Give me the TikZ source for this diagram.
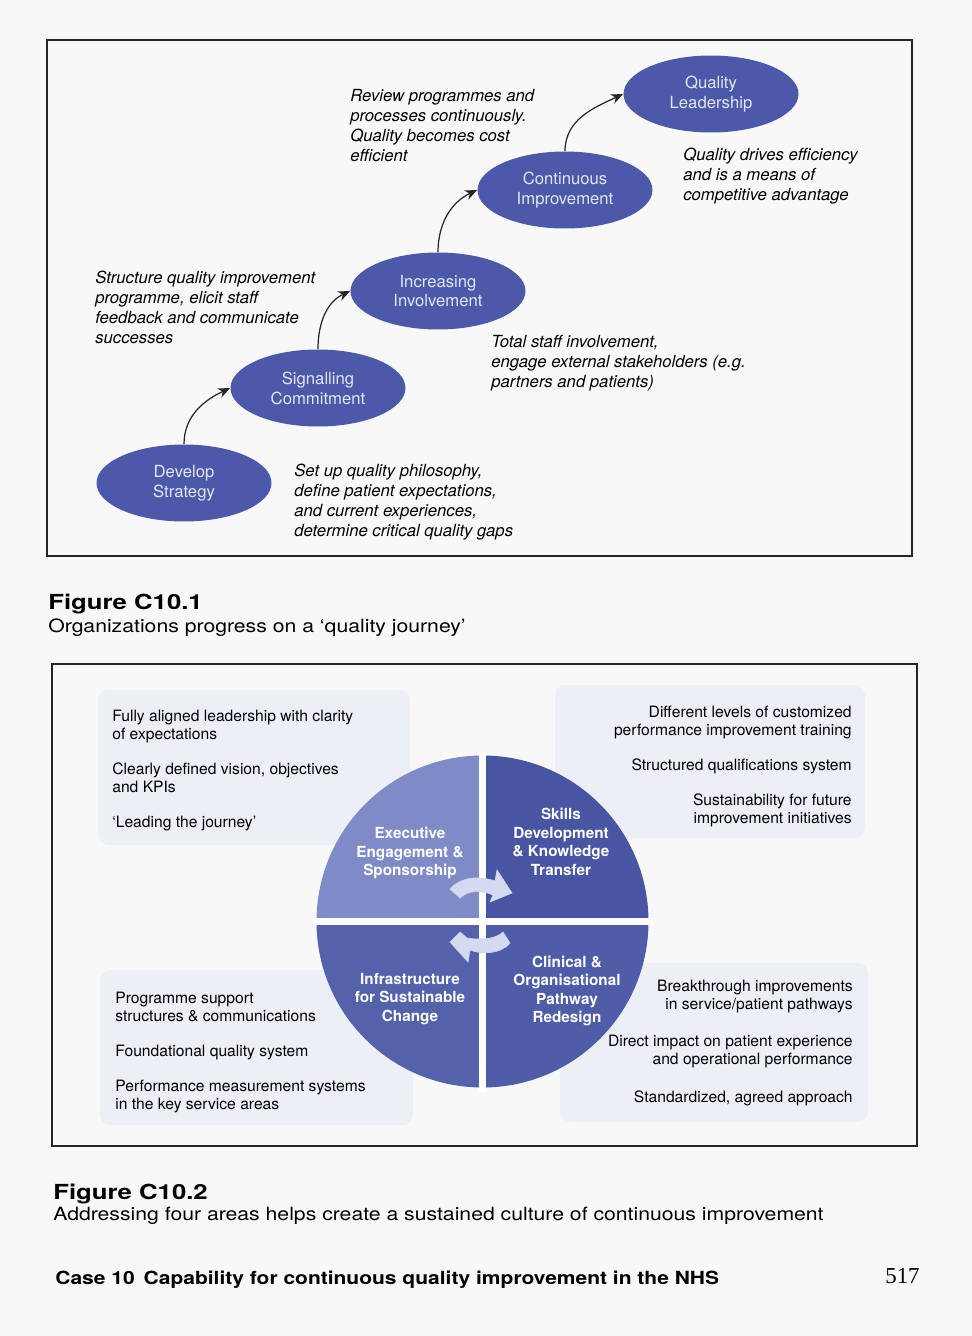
\documentclass[tikz,border=0pt]{standalone}
\usepackage{fontspec}
\setmainfont{TeX Gyre Heros}
\newfontfamily\widefont[FakeStretch=1.16]{TeX Gyre Heros}
\newfontfamily\titlefont[FakeStretch=1.24]{TeX Gyre Heros}
\newfontfamily\folio{Liberation Serif}
\usetikzlibrary{arrows.meta, shapes.geometric}

\definecolor{paper}{RGB}{248,248,248}
\definecolor{stageblue}{RGB}{76,89,168}
\definecolor{stagetext}{RGB}{226,229,243}
\definecolor{quadlight}{RGB}{127,139,199}
\definecolor{quaddark}{RGB}{72,85,163}
\definecolor{quadmid}{RGB}{84,98,172}
\definecolor{quadlow}{RGB}{79,93,169}
\definecolor{panelgray}{RGB}{236,239,246}
\definecolor{swirl}{RGB}{214,218,240}

\begin{document}
\begin{tikzpicture}[
    x=0.02cm, y=0.02cm,
    stage/.style={ellipse, fill=stageblue, text=stagetext, minimum width=3.5cm, minimum height=1.54cm, inner sep=0pt, align=center, font=\fontsize{9.5}{11.3}\selectfont},
    note/.style={anchor=north west, align=left, inner sep=0pt, font=\fontsize{9.5}{11.3}\selectfont\itshape},
    climb/.style={-{Stealth[length=2.4mm, width=2mm]}, line width=0.7pt, black!85},
    frame/.style={draw=black!85, line width=1pt},
    panel/.style={fill=panelgray, rounded corners=6pt},
    quadtext/.style={text=white, align=center, inner sep=0pt, font=\fontsize{8.7}{10.6}\selectfont\bfseries},
    point/.style={inner sep=0pt, font=\fontsize{8.9}{10.2}\selectfont},
    swirlarrow/.style={fill=swirl, draw=white!60!quadlight, line width=0.4pt},
    figtitle/.style={anchor=west, inner sep=0pt, font=\titlefont\fontsize{11.8}{14}\selectfont\bfseries},
    figsub/.style={anchor=west, inner sep=0pt, font=\widefont\fontsize{10.4}{12}\selectfont},
    runfoot/.style={anchor=west, inner sep=0pt, font=\widefont\fontsize{10.3}{12}\selectfont\bfseries},
]
\useasboundingbox (0,0) rectangle (972,-1336);
\fill[paper] (0,0) rectangle (972,-1336);

% Figure C10.1: the quality journey
\draw[frame] (47,-40) rectangle (912,-556);

\node[stage] (develop) at (184,-483) {Develop\\Strategy};
\node[stage] (signal) at (318,-388) {Signalling\\Commitment};
\node[stage] (involve) at (438,-291) {Increasing\\Involvement};
\node[stage] (improve) at (565,-190) {Continuous\\Improvement};
\node[stage] (lead) at (711,-94) {Quality\\Leadership};

\draw[climb] (develop.north) to[out=90, in=205] (signal.west);
\draw[climb] (signal.north) to[out=90, in=205] (involve.west);
\draw[climb] (involve.north) to[out=90, in=205] (improve.west);
\draw[climb] (improve.north) to[out=90, in=205] (lead.west);

\node[note] (reviewnote) at (350,-89) {Review programmes and\\processes continuously.\\Quality becomes cost\\efficient};
\node[note] (drivesnote) at (683,-148) {Quality drives efficiency\\and is a means of\\competitive advantage};
\node[note] (structnote) at (95,-271) {Structure quality improvement\\programme, elicit staff\\feedback and communicate\\successes};
\node[note] (staffnote) at (491,-335) {Total staff involvement,\\engage external stakeholders (e.g.\\partners and patients)};
\node[note] (setupnote) at (294,-464) {Set up quality philosophy,\\define patient expectations,\\and current experiences,\\determine critical quality gaps};

\node[figtitle] (figone) at (48,-604) {Figure C10.1};
\node[figsub] (figonecap) at (48,-628) {Organizations progress on a ‘quality journey’};

% Figure C10.2: four areas
\draw[frame] (52,-664) rectangle (917,-1146);

\fill[panel] (98,-690) rectangle (410,-845);
\fill[panel] (555,-685) rectangle (865,-838);
\fill[panel] (100,-970) rectangle (413,-1125);
\fill[panel] (560,-963) rectangle (868,-1122);

\coordinate (hub) at (482.5,-921.5);
\fill[quadlight] (hub) -- ++(180:166) arc[start angle=180, end angle=90, radius=166] -- cycle;
\fill[quaddark] (hub) -- ++(90:166) arc[start angle=90, end angle=0, radius=166] -- cycle;
\fill[quadmid] (hub) -- ++(180:166) arc[start angle=180, end angle=270, radius=166] -- cycle;
\fill[quadlow] (hub) -- ++(0:166) arc[start angle=0, end angle=-90, radius=166] -- cycle;
\draw[white, line width=0.14cm] (hub) ++(-170,0) -- ++(340,0);
\draw[white, line width=0.14cm] (hub) ++(0,170) -- ++(0,-340);

% turning arrows between the quarters
\draw[swirlarrow] (450,-889) .. controls (462,-876) and (480,-876) .. (495,-881) -- (497,-870) -- (512,-893) -- (490,-902) -- (493,-895) .. controls (482,-890) and (468,-890) .. (460,-898) -- cycle;
\draw[swirlarrow] (503,-932) -- (510,-943) .. controls (500,-955) and (480,-954) .. (470,-950) -- (468,-962) -- (450,-942) -- (460,-932) -- (467,-938) .. controls (478,-940) and (495,-940) .. (503,-932) -- cycle;

\node[quadtext] (execlab) at (410,-853) {Executive\\Engagement \&\\Sponsorship};
\node[quadtext] (skilllab) at (561,-842) {Skills\\Development\\\& Knowledge\\Transfer};
\node[quadtext] (infralab) at (410,-999) {Infrastructure\\for Sustainable\\Change};
\node[quadtext] (pathlab) at (567,-991) {Clinical \&\\Organisational\\Pathway\\Redesign};

\node[point, anchor=north west, align=left] (leadpts) at (112,-710) {Fully aligned leadership with clarity\\of expectations\\[9.6pt]Clearly defined vision, objectives\\and KPIs\\[9.6pt]‘Leading the journey’};
\node[point, anchor=north east, align=right] (skillpts) at (852,-706) {Different levels of customized\\performance improvement training\\[9.6pt]Structured qualifications system\\[9.6pt]Sustainability for future\\improvement initiatives};
\node[point, anchor=north west, align=left] (infrapts) at (115,-992) {Programme support\\structures \& communications\\[9.6pt]Foundational quality system\\[9.6pt]Performance measurement systems\\in the key service areas};
\node[point, anchor=north east, align=right] (pathpts) at (853,-980) {Breakthrough improvements\\in service/patient pathways\\[11pt]Direct impact on patient experience\\and operational performance\\[11pt]Standardized, agreed approach};

\node[figtitle] (figtwo) at (53,-1194) {Figure C10.2};
\node[figsub] (figtwocap) at (53,-1216) {Addressing four areas helps create a sustained culture of continuous improvement};

% running foot
\node[runfoot] (runhead) at (55,-1280) {Case 10\enspace Capability for continuous quality improvement in the NHS};
\node[anchor=east, inner sep=0pt, font=\folio\fontsize{13}{15}\selectfont] (pageno) at (920,-1276) {517};

\end{tikzpicture}
\end{document}
